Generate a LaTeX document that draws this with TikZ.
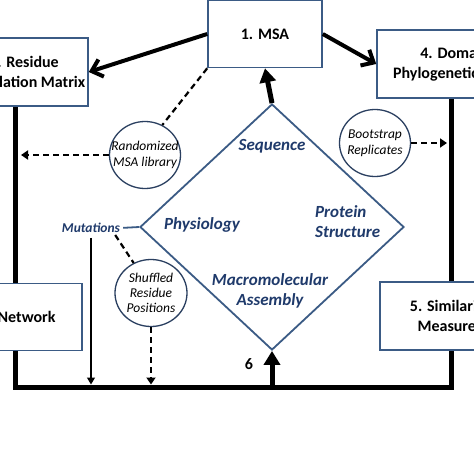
\documentclass[tikz,border=0pt]{standalone}
\usepackage{fontspec}
\setmainfont{Carlito}
\usetikzlibrary{arrows.meta,shapes.geometric}
\definecolor{boxblue}{HTML}{3B5B85}
\definecolor{txtblue}{HTML}{1F3A6B}
\definecolor{ringblue}{HTML}{2A3F60}

\begin{document}
\begin{tikzpicture}[x=1pt,y=-1pt]
\tikzstyle{every node}=[inner sep=0pt]
\tikzstyle{box}=[draw=boxblue, line width=1.6pt, fill=white, align=center, font=\fontsize{16}{20}\selectfont\bfseries]
\tikzstyle{ring}=[draw=ringblue, ellipse, line width=1.3pt, minimum width=71pt, minimum height=67pt]
\tikzstyle{ringtext}=[align=center, font=\fontsize{13.5}{16}\selectfont\itshape]
\tikzstyle{facet}=[text=txtblue, align=center, font=\fontsize{17}{20}\selectfont\bfseries\itshape]
\tikzstyle{main}=[line width=5pt]
\tikzstyle{dashline}=[line width=2.2pt, dash pattern=on 6pt off 4pt]
\useasboundingbox (0,0) rectangle (474,474);
\fill[white] (0,0) rectangle (474,474);
\clip (0,0) rectangle (474,474);
% boxes
\draw (265,34) node (msa) [box, minimum width=114pt, minimum height=67pt] {1. MSA};
\draw (24,72) node (box2) [box, minimum width=128pt, minimum height=68pt] {2. Residue\\Correlation Matrix};
\draw (455,64) node (box4) [box, minimum width=156pt, minimum height=68pt] {4. Domain\\Phylogenetic Trees};
\draw (18,317) node (box3) [box, minimum width=128pt, minimum height=67pt] {3. Network};
\draw (450,316) node (box5) [box, minimum width=140pt, minimum height=68pt] {5. Similarity\\Measures};
% diamond
\draw (272,227) node (dia) [diamond, draw=boxblue, line width=1.8pt, minimum width=264pt, minimum height=246pt] {};
\draw (272,146) node (seq) [facet] {Sequence};
\draw (202,225) node (phys) [facet] {Physiology};
\draw (315,222) node (prot) [facet, anchor=west, align=left] {Protein\\Structure};
\draw (270,291) node (macro) [facet] {Macromolecular\\Assembly};
\draw (91,228) node (mut) [facet, font=\fontsize{13.5}{16}\selectfont\bfseries\itshape] {Mutations};
% circles
\draw (145,155) node (rand) [ring] {};
\draw (rand) node (randtxt) [ringtext] {Randomized\\MSA library};
\draw (375,143) node (boot) [ring] {};
\draw (boot) node (boottxt) [ringtext] {Bootstrap\\Replicates};
\draw (151,293) node (shuf) [ring, minimum width=72pt] {};
\draw (shuf) node (shuftxt) [ringtext, font=\fontsize{13.5}{15}\selectfont\itshape] {Shuffled\\Residue\\Positions};
\draw (249,364) node (six) [font=\fontsize{16}{20}\selectfont\bfseries] {6};
% frame
\coordinate (bl) at (15,387);
\coordinate (br) at (451,387);
\draw[main] (box2.south -| bl) -- (box3.north -| bl);
\draw[main] (box3.south -| bl) -- (bl) -- (br) -- (box5.south -| br);
\draw[main] (box5.north -| br) -- (box4.south -| br);
% arrows
\draw[line width=4pt, -{Straight Barb[length=10pt,width=18pt]}] (msa.west) -- (box2.east);
\draw[line width=4pt, -{Straight Barb[length=10pt,width=18pt]}] (msa.east) -- (box4.west);
\draw[main, -{Triangle[length=14pt,width=16pt]}] (dia.north) -- (msa.south);
\draw[main, -{Triangle[length=14pt,width=16pt]}] (dia.south |- bl) -- (dia.south);
\draw[dashline] (msa.south west) -- (rand.60);
\draw[dashline, -{Triangle[length=7pt,width=9pt]}] (rand.west) -- ([xshift=6pt]rand.west -| bl);
\draw[dashline, -{Triangle[length=7pt,width=9pt]}] (boot.east) -- ([xshift=-4pt]boot.east -| br);
\draw[dashline] ([xshift=-5pt,yshift=-2pt]mut.south east) -- (shuf.120);
\draw[dashline, -{Triangle[length=7pt,width=9pt]}] (shuf.south) -- ([yshift=2.5pt]shuf.south |- bl);
\draw[line width=1.4pt, -{Triangle[length=7pt,width=8pt]}, shorten <=5pt] (mut.south) -- ([yshift=2.5pt]mut.south |- bl);
\draw[draw=boxblue, line width=1.8pt, shorten <=3pt] (mut.east) -- (dia.west);
\end{tikzpicture}
\end{document}
